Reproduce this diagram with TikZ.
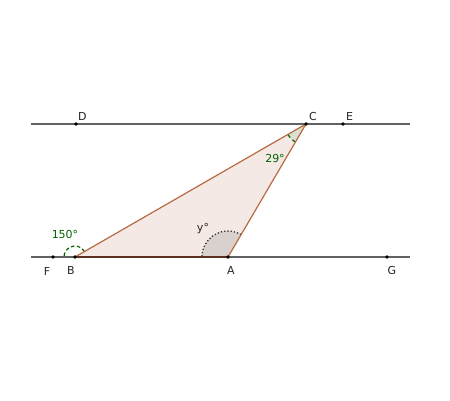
\documentclass[tikz,border=0pt]{standalone}
\usepackage{fontspec}
\setmainfont{DejaVu Sans}
\usetikzlibrary{calc}
\begin{document}
\begin{tikzpicture}[x=1pt,y=-1pt,
  pt/.style={circle,fill=black,inner sep=0pt,minimum size=3.6pt},
  lbl/.style={font=\fontsize{11}{13}\selectfont,inner sep=0pt,text=black!85},
  albl/.style={font=\fontsize{11}{13}\selectfont,inner sep=0pt,text=ang},
  gline/.style={draw=black!62,line width=1.2pt},
  side/.style={draw=edge,line width=1.2pt}]
\definecolor{tri}{HTML}{F4E9E5}
\definecolor{edge}{HTML}{B86A42}
\definecolor{edgedark}{HTML}{5A3020}
\definecolor{ang}{HTML}{006400}
\definecolor{angfill}{HTML}{DCE0D0}
\definecolor{yfill}{HTML}{D9D1CE}
\useasboundingbox (0,0) rectangle (450,401);
\coordinate (B) at (75,257);
\coordinate (A) at (228,257);
\coordinate (C) at (306,124);
\coordinate (L1) at (31,124);
\coordinate (R1) at (410,124);
\coordinate (L2) at (31,257);
\coordinate (R2) at (410,257);
% triangle fill
\fill[tri] (B) -- (A) -- (C) -- cycle;
% angle at A (y)
\fill[yfill] (A) -- ++(59.6:26pt) arc[start angle=59.6,end angle=180,radius=26pt] -- cycle;
\draw[black!80,line width=1.3pt,dotted] (A) ++(59.6:26pt) arc[start angle=59.6,end angle=180,radius=26pt];
% angle at C
\fill[angfill] (C) -- ++(209.93:21pt) arc[start angle=209.93,end angle=239.6,radius=21pt] -- cycle;
\draw[ang,line width=1.2pt,dash pattern=on 4pt off 3pt] (C) ++(209.93:21pt) arc[start angle=209.93,end angle=239.6,radius=21pt];
% lines
\draw[gline] (L1) -- (R1);
\draw[gline] (L2) -- (R2);
% angle at B (exterior)
\draw[ang,line width=1.2pt,dash pattern=on 3.5pt off 2.5pt] (B) ++(29.93:11pt) arc[start angle=29.93,end angle=180,radius=11pt];
% triangle sides
\draw[side] (B) -- (C) -- (A);
\draw[draw=edgedark,line width=1.4pt] (B) -- (A);
% points
\node[pt] (pB) at (B) {};
\node[pt] (pA) at (A) {};
\node[pt] (pC) at (C) {};
\node[pt] (pD) at (76,124) {};
\node[pt] (pE) at (343,124) {};
\node[pt] (pF) at (53,257) {};
\node[pt] (pG) at (387,257) {};
% labels
\node[lbl,anchor=south west] at (78,121) {D};
\node[lbl,anchor=south west] at (309,121) {C};
\node[lbl,anchor=south west] at (346,121) {E};
\node[lbl] at (47,271) {F};
\node[lbl] at (71,270) {B};
\node[lbl] at (231,270) {A};
\node[lbl] at (392,270) {G};
\node[albl] at (65,234) {150°};
\node[albl] at (275,158) {29°};
\node[lbl] at (203,229) {y°};
\end{tikzpicture}
\end{document}
